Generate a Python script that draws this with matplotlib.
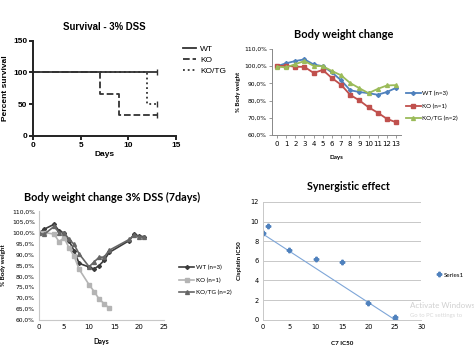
import numpy as np
import matplotlib
matplotlib.use("Agg")
import matplotlib.pyplot as plt
from matplotlib.ticker import FuncFormatter

# ---- survival (top left)
surv_labels = ["WT", "KO", "KO/TG"]
surv_days = [[0, 13], [0, 7, 9, 13], [0, 12, 13]]
surv_pct = [[100, 100], [100, 66.7, 33.3, 33.3], [100, 50, 50]]
surv_styles = ["-", "--", ":"]

# ---- body weight change (top right), days 0..13
bw_days = list(range(14))
bw_wt = [100, 101.7, 103, 104, 101, 100, 96.4, 91.8, 86, 85, 84.3, 83.4, 85, 87.4]
bw_ko = [100, 100.3, 99.7, 99.6, 96.1, 97.8, 93.1, 89.2, 83.3, 80.1, 76.1, 73, 69.4, 67.4]
bw_kotg = [99.8, 99.3, 101.2, 103, 100.2, 100, 97.2, 94.7, 90.2, 87.2, 84.3, 86.8, 88.8, 89]
bw_labels = ["WT (n=3)", "KO (n=1)", "KO/TG (n=2)"]

# ---- body weight change 3% DSS (bottom left)
dss_wt_days = [0, 1, 3, 4, 5, 6, 7, 8, 10, 11, 12, 13, 14, 18, 19, 20, 21]
dss_wt = [100, 101.7, 104, 101, 100, 96.4, 91.8, 86, 84.3, 83.4, 85, 87.4, 91, 96.5, 99.5, 98.5, 98.3]
dss_ko_days = [0, 1, 3, 4, 5, 6, 7, 8, 10, 11, 12, 13, 14]
dss_ko = [100, 100.2, 99.5, 96, 97.8, 93.1, 89.3, 83.3, 76.1, 73, 69.5, 67.4, 65.3]
dss_kotg_days = [0, 1, 3, 4, 5, 6, 7, 8, 10, 11, 12, 13, 14, 18, 19, 20, 21]
dss_kotg = [100, 99.3, 103, 100.2, 100, 97.2, 94.7, 90.4, 84.4, 86.7, 88.8, 88.9, 92, 97, 99, 98.3, 98]

# ---- synergistic effect (bottom right)
c7_ic50 = [0, 1, 5, 10, 15, 20, 25, 25]
cis_ic50 = [8.8, 9.6, 7.1, 6.2, 5.9, 1.7, 0.25, 0.0]
trend_x = [0, 25]
trend_y = [8.75, 0.0]

W, H = 474, 354
fig = plt.figure(figsize=(W / 100, H / 100), dpi=100)
fig.patch.set_facecolor("white")


def box(l, t, r, b):
    return [l / W, 1 - b / H, (r - l) / W, (b - t) / H]


def ftext(x, y, s, **kw):
    fig.text(x / W, 1 - y / H, s, **kw)


arial = "Liberation Sans"
calib = "Lato"
pct = FuncFormatter(lambda v, p: ("%.1f%%" % v).replace(".", ","))

# ================= panel 1
ax1 = fig.add_axes(box(33, 40.7, 176, 136))
for d, p, ls, lab in zip(surv_days, surv_pct, surv_styles, surv_labels):
    ax1.step(d, p, where="post", ls=ls, color="#333333", lw=1.3, label=lab)
    ax1.plot(d[-1], p[-1], marker="|", ms=4, color="#333333", mew=1)
ax1.set_xlim(0, 15)
ax1.set_ylim(0, 150)
ax1.set_xticks([0, 5, 10, 15])
ax1.set_yticks([0, 50, 100, 150])
for s in ["top", "right"]:
    ax1.spines[s].set_visible(False)
for s in ["left", "bottom"]:
    ax1.spines[s].set_linewidth(1.4)
    ax1.spines[s].set_color("#222222")
ax1.tick_params(width=1.2, length=3, labelsize=6, pad=1)
for t in ax1.get_xticklabels() + ax1.get_yticklabels():
    t.set_fontfamily(arial)
    t.set_fontweight("bold")
ax1.set_title("Survival - 3% DSS", fontsize=6.9, fontweight="bold", family=arial, pad=8)
ax1.set_xlabel("Days", fontsize=6, fontweight="bold", family=arial, labelpad=2)
ax1.set_ylabel("Percent survival", fontsize=6, fontweight="bold", family=arial, labelpad=3)
ax1.legend(loc="upper left", bbox_to_anchor=(1.0, 1.03), frameon=False,
           prop={"family": arial, "size": 6}, handlelength=1.5, labelspacing=0.35,
           handletextpad=0.5)

# ================= panel 2
ax2 = fig.add_axes(box(272.4, 49, 400.6, 135))
ax2.plot(bw_days, bw_wt, color="#4F81BD", marker="D", ms=2, lw=1.3, label=bw_labels[0])
ax2.plot(bw_days, bw_ko, color="#C0504D", marker="s", ms=2.6, lw=1.3, label=bw_labels[1])
ax2.plot(bw_days, bw_kotg, color="#9BBB59", marker="^", ms=2.8, lw=1.3, label=bw_labels[2])
ax2.set_xlim(-0.5, 13.5)
ax2.set_ylim(60, 110)
ax2.set_xticks(bw_days)
ax2.set_yticks(np.arange(60, 111, 10))
ax2.yaxis.set_major_formatter(pct)
for s in ["top", "right"]:
    ax2.spines[s].set_visible(False)
for s in ["left", "bottom"]:
    ax2.spines[s].set_color("#888888")
    ax2.spines[s].set_linewidth(0.7)
ax2.tick_params(labelsize=4.3, length=2, width=0.6, color="#888888", pad=2)
ax2.tick_params(axis="x", labelsize=5)
ax2.set_xlabel("Days", fontsize=4.5, fontweight="bold", family=calib, labelpad=6)
ftext(344, 34, "Body weight change", fontsize=7.9, fontweight="bold", family=calib,
      ha="center", va="center")
ftext(238.5, 92, "% Body weight", fontsize=4.3, fontweight="bold", family=calib,
      rotation=90, ha="center", va="center")
ax2.legend(loc="center left", bbox_to_anchor=(1.02, 0.337), frameon=False,
           prop={"family": calib, "size": 4.5}, handlelength=2.4, labelspacing=1.2,
           handletextpad=0.2, borderaxespad=0)

# ================= panel 3
ax3 = fig.add_axes(box(39, 211.3, 164.3, 319.7))
ax3.plot(dss_wt_days, dss_wt, color="#3c3c3c", marker="D", ms=2, lw=1.2, label=bw_labels[0])
ax3.plot(dss_ko_days, dss_ko, color="#b4b4b4", marker="s", ms=3, lw=1.2, label=bw_labels[1])
ax3.plot(dss_kotg_days, dss_kotg, color="#666666", marker="^", ms=2.8, lw=1.2, label=bw_labels[2])
ax3.set_xlim(0, 25)
ax3.set_ylim(60, 110)
ax3.set_xticks([0, 5, 10, 15, 20, 25])
ax3.set_yticks(np.arange(60, 111, 5))
ax3.yaxis.set_major_formatter(pct)
for s in ["top", "right"]:
    ax3.spines[s].set_visible(False)
for s in ["left", "bottom"]:
    ax3.spines[s].set_color("#c8c8c8")
    ax3.spines[s].set_linewidth(0.8)
ax3.tick_params(labelsize=4.3, length=0, pad=3)
ax3.tick_params(axis="x", labelsize=5)
ax3.set_xlabel("Days", fontsize=5, fontweight="bold", family=calib, labelpad=6)
ax3.set_ylabel("% Body weight", fontsize=4.5, fontweight="bold", family=calib, labelpad=4)
ftext(112, 197.5, "Body weight change 3% DSS (7days)", fontsize=7.8, fontweight="bold",
      family=calib, ha="center", va="center")
ax3.legend(loc="center left", bbox_to_anchor=(1.1, 0.366), frameon=False,
           prop={"family": calib, "size": 4.5}, handlelength=2.4, labelspacing=1.2,
           handletextpad=0.2, borderaxespad=0)

# ================= panel 4
ax4 = fig.add_axes(box(262.7, 202, 421.3, 319.7))
ax4.plot(trend_x, trend_y, color="#7EA6D8", lw=0.8)
ax4.plot(c7_ic50, cis_ic50, ls="none", marker="P", ms=3.2, color="#4F81BD", label="Series1")
ax4.set_xlim(0, 30)
ax4.set_ylim(0, 12)
ax4.set_xticks([0, 5, 10, 15, 20, 25, 30])
ax4.set_yticks(np.arange(0, 13, 2))
ax4.grid(axis="y", color="#c8c8c8", lw=0.7)
ax4.set_axisbelow(True)
for s in ["top", "right"]:
    ax4.spines[s].set_visible(False)
for s in ["left", "bottom"]:
    ax4.spines[s].set_color("#c8c8c8")
    ax4.spines[s].set_linewidth(0.7)
ax4.tick_params(labelsize=4.8, length=0, pad=3)
ax4.set_xlabel("C7 IC50", fontsize=4.5, fontweight="bold", family=calib, labelpad=8)
ax4.set_ylabel("Cisplatin IC50", fontsize=4.5, fontweight="bold", family=calib, labelpad=6)
ftext(348, 187, "Synergistic effect", fontsize=7.7, fontweight="bold", family=calib,
      ha="center", va="center")
ax4.legend(loc="center left", bbox_to_anchor=(1.08, 0.38), frameon=False,
           prop={"family": calib, "size": 4.5}, handlelength=0.8, handletextpad=0.3,
           borderaxespad=0)

# screen watermark
ftext(410, 305, "Activate Windows", fontsize=5.8, color="#d0d0d0", family=calib, va="center")
ftext(410, 316, "Go to PC settings to", fontsize=4.2, color="#d8d8d8",
      family=calib, va="center")

fig.savefig("out.png", dpi=100)
